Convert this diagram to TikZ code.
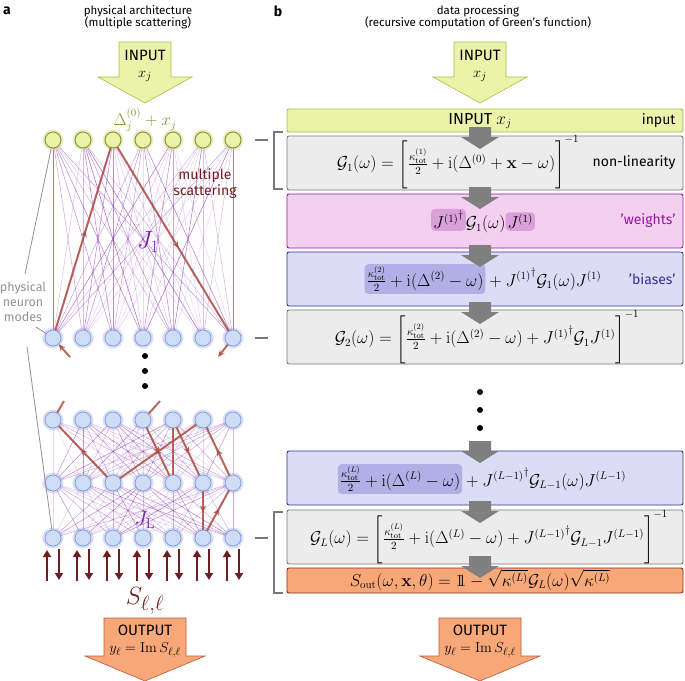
\documentclass[tikz,border=0pt]{standalone}
\usepackage[no-math]{fontspec}
\setmainfont{Fira Sans}
\usepackage{amsmath,amssymb}
\usetikzlibrary{arrows.meta,decorations.markings}
\newcommand\onebb{\mathrm{1}\mkern-5.5mu\mathrm{1}}
\definecolor{inF}{RGB}{234,243,170}
\definecolor{inD}{RGB}{170,190,70}
\definecolor{olive}{RGB}{140,150,50}
\definecolor{grF}{RGB}{236,236,236}
\definecolor{grD}{RGB}{120,120,120}
\definecolor{wF}{RGB}{244,208,240}
\definecolor{wD}{RGB}{150,20,160}
\definecolor{wH}{RGB}{218,160,218}
\definecolor{bF}{RGB}{220,220,246}
\definecolor{bD}{RGB}{50,50,140}
\definecolor{bH}{RGB}{176,176,230}
\definecolor{oF}{RGB}{248,168,120}
\definecolor{oD}{RGB}{150,40,20}
\definecolor{edge}{RGB}{130,30,170}
\definecolor{scat}{RGB}{175,80,70}
\definecolor{dred}{RGB}{110,30,30}
\definecolor{nodeF}{RGB}{206,220,246}
\definecolor{nodeD}{RGB}{130,150,220}
\newcommand\hlb[2]{\tikz[baseline=(X.base)]\node(X)[fill=#1,rounded corners=4pt,inner sep=2pt]{$#2$};}
\tikzset{
 box/.style={draw, line width=0.9pt, rounded corners=2pt},
 lab/.style={font=\fontsize{14}{16}\selectfont},
 big/.style={font=\fontsize{15}{15}\selectfont, align=center, inner sep=0pt},
 ttl/.style={font=\fontsize{11.5}{12.5}\selectfont, align=center},
 fml/.style={font=\fontsize{16}{18}\selectfont},
 rn/.style={fill=nodeF, draw=nodeD, line width=0.7pt, circle, minimum size=16pt, inner sep=0pt},
 gn/.style={fill=inF, draw=olive, line width=1pt, circle, minimum size=16pt, inner sep=0pt},
 sc/.style={draw=scat, line width=2pt, opacity=.85},
 scm/.style={sc, postaction={decorate}, decoration={markings, mark=at position .55 with {\arrow[scat]{Stealth[length=7pt,width=6pt]}}}},
 gar/.style={fill=grD!95, draw=none},
 bigin/.style={fill=inF, draw=inD, line width=0.6pt},
 bigout/.style={fill=oF, draw=oD!60!oF, line width=0.6pt},
}
\newcommand\garr[1]{\fill[gar] (469,#1) -- (491,#1) -- (491,#1+10) -- (499,#1+10) -- (480,#1+22) -- (461,#1+10) -- (469,#1+10) -- cycle;}
\newcommand\barrow[1]{\draw[bigin] (#1-26,42) -- (#1+26,42) -- (#1+26,77) -- (#1+47,77) -- (#1,103) -- (#1-47,77) -- (#1-26,77) -- cycle;}
\newcommand\oarrow[1]{\draw[bigout] (#1-41,618) -- (#1+41,618) -- (#1+41,656) -- (#1+60,656) -- (#1,681) -- (#1-60,656) -- (#1-41,656) -- cycle;}
\begin{document}
\begin{tikzpicture}[x=1pt,y=-1pt]
\useasboundingbox (0,0) rectangle (685,680);
\fill[white] (0,0) rectangle (685,680);
% titles
\node[font=\bfseries\fontsize{14}{15}\selectfont] (ta) at (7,11) {a};
\node[font=\bfseries\fontsize{14}{15}\selectfont] (tb) at (278,11) {b};
\node[ttl] (t1) at (138,17) {physical architecture\\(multiple scattering)};
\node[ttl] (t2) at (478,17) {data processing\\(recursive computation of Green's function)};
% input arrows
\barrow{145}
\node[big] (in1) at (145,66) {INPUT\\[2pt]$x_j$};
\barrow{480}
\node[big] (in2) at (480,66) {INPUT\\[2pt]$x_j$};
% output arrows
\oarrow{145}
\node[big] (o1) at (145,641) {OUTPUT\\[2pt]$y_\ell=\operatorname{Im}S_{\ell,\ell}$};
\oarrow{480}
\node[big] (o2) at (480,641) {OUTPUT\\[2pt]$y_\ell=\operatorname{Im}S_{\ell,\ell}$};
% ---------- network ----------
\pgfmathsetseed{7}
\foreach \i in {0,...,6}{\foreach \j in {0,...,6}{
  \pgfmathsetmacro\op{0.15+0.55*rnd}
  \draw[edge, line width=0.5pt, opacity=\op] (53+30*\i,140) -- (53+30*\j,338);
  \pgfmathsetmacro\op{0.12+0.45*rnd}
  \draw[edge, line width=0.5pt, opacity=\op] (53+30*\i,420) -- (53+30*\j,483);
  \pgfmathsetmacro\op{0.12+0.45*rnd}
  \draw[edge, line width=0.5pt, opacity=\op] (53+30*\i,483) -- (53+30*\j,538);
}}
\foreach \i in {0,...,6}{
  \fill[inF!80!olive, opacity=.5] (53+30*\i,140) circle (10.5);
  \node[gn] (g\i) at (53+30*\i,140) {};
  \foreach \r/\y in {a/338,b/420,c/483,d/538}{
    \fill[nodeD, opacity=.3] (53+30*\i,\y) circle (10.5);
    \node[rn] (\r\i) at (53+30*\i,\y) {};
  }
}
% scattering paths layer 1
\draw[scm] (a0) -- (g2);
\draw[scm] (g2) -- (a6);
\coordinate (s1) at (70,357); \coordinate (s2) at (218,357);
\draw[sc, -{Stealth[length=7pt,width=6pt]}] (s1) -- (a0);
\draw[sc, -{Stealth[length=7pt,width=6pt]}] (a6) -- (s2);
% scattering paths layer L
\coordinate (s3) at (64,401); \coordinate (s4) at (160,401);
\draw[sc] (s3) -- (b0);
\draw[sc] (s4) -- (b3);
\draw[scm] (c2) -- (b0);
\draw[scm] (b3) -- (c4);
\draw[scm] (b5) -- (c2);
\draw[sc] (b4) -- (c4);
\draw[scm] (b4) -- (c5);
\draw[scm] (c6) -- (b5);
\draw[scm] (c5) -- (d5);
\draw[scm] (d5) -- (c6);
% in/out arrows
\foreach \i in {0,...,6}{
  \coordinate (u\i) at (47+30*\i,581);
  \coordinate (v\i) at (59+30*\i,549);
  \draw[dred, line width=2.2pt, -{Triangle[length=7pt,width=8pt]}] (u\i) -- ++(0,-31);
  \draw[dred, line width=2.2pt, -{Triangle[length=7pt,width=8pt]}] (v\i) -- ++(0,31);
}
% labels
\node[fml, text=olive] (dl) at (145,120) {$\Delta_j^{(0)}+x_j$};
\node[lab, text=dred, align=center] (ms) at (205,184) {multiple\\scattering};
\node[text=edge, font=\fontsize{26}{28}\selectfont] (J1) at (148,242) {$J_1$};
\node[text=edge, font=\fontsize{22}{24}\selectfont] (JL) at (145,520) {$J_{\mathrm{L}}$};
\node[text=dred, font=\fontsize{28}{30}\selectfont] (S) at (145,601) {$S_{\ell,\ell}$};
\node[text=grD!80, align=center, font=\fontsize{12.5}{15}\selectfont, inner sep=1pt] (pn) at (23,302) {physical\\neuron\\modes};
\draw[grD!80, line width=0.8pt] (25,274) -- (g0);
\draw[grD!80, line width=0.8pt] (36,327) -- (a0);
\draw[grD!80, line width=0.8pt] (27,347) -- (d0);
% dots
\foreach \y in {356,371,386} {\fill (145,\y) circle (3);}
\foreach \y in {392,410,428} {\fill (480,\y) circle (3);}
% connectors to right panel
\foreach \y in {140,338,538} {\draw[grD, line width=1.5pt] (255,\y) -- (268,\y);}
\draw[grD, line width=1.5pt] (283,132) -- (274,132) -- (274,189) -- (283,189);
\draw[grD, line width=1.5pt] (283,512) -- (274,512) -- (274,593) -- (283,593);
% ---------- right boxes ----------
\draw[box, fill=inF, draw=inD] (287,109) rectangle (683,132);
\node[fml] (bx1) at (480,121) {INPUT $x_j$};
\node[lab, anchor=east] (l1) at (679,121) {input};
\draw[box, fill=grF, draw=grD] (287,136) rectangle (683,190);
\node[fml] (bx2) at (458,163) {$\mathcal G_1(\omega)=\Bigg[\frac{\kappa_{\mathrm{tot}}^{(1)}}{2}+\mathrm i(\Delta^{(0)}+\mathbf x-\omega)\Bigg]^{-1}$};
\node[lab, anchor=east] (l2) at (679,163) {non-linearity};
\draw[box, fill=wF, draw=wD] (287,194) rectangle (683,248);
\node[fml] (bx3) at (483,221) {${\hlb{wH}{{J^{(1)}}^{\dagger}}}\mathcal G_1(\omega){\hlb{wH}{J^{(1)}}}$};
\node[lab, anchor=east, text=wD] (l3) at (679,221) {'weights'};
\draw[box, fill=bF, draw=bD] (287,252) rectangle (683,306);
\node[fml] (bx4) at (483,279) {${\hlb{bH}{\frac{\kappa_{\mathrm{tot}}^{(2)}}{2}+\mathrm i(\Delta^{(2)}-\omega)}}+{J^{(1)}}^{\dagger}\mathcal G_1(\omega)J^{(1)}$};
\node[lab, anchor=east, text=bD] (l4) at (679,279) {'biases'};
\draw[box, fill=grF, draw=grD] (287,310) rectangle (683,364);
\node[fml] (bx5) at (487,338) {$\mathcal G_2(\omega)=\Bigg[\frac{\kappa_{\mathrm{tot}}^{(2)}}{2}+\mathrm i(\Delta^{(2)}-\omega)+{J^{(1)}}^{\dagger}\mathcal G_1J^{(1)}\Bigg]^{-1}$};
\draw[box, fill=bF, draw=bD] (287,451) rectangle (683,505);
\node[fml] (bx6) at (482,479) {${\hlb{bH}{\frac{\kappa_{\mathrm{tot}}^{(L)}}{2}+\mathrm i(\Delta^{(L)}-\omega)}}+{J^{(L-1)}}^{\dagger}\mathcal G_{L-1}(\omega)J^{(L-1)}$};
\draw[box, fill=grF, draw=grD] (287,510) rectangle (683,564);
\node[fml] (bx7) at (489,538) {$\mathcal G_L(\omega)=\Bigg[\frac{\kappa_{\mathrm{tot}}^{(L)}}{2}+\mathrm i(\Delta^{(L)}-\omega)+{J^{(L-1)}}^{\dagger}\mathcal G_{L-1}J^{(L-1)}\Bigg]^{-1}$};
\draw[box, fill=oF, draw=oD] (287,568) rectangle (683,593);
\node[fml] (bx8) at (480,580) {$S_{\mathrm{out}}(\omega,\mathbf x,\theta)=\onebb-\sqrt{\kappa^{(L)}}\mathcal G_L(\omega)\sqrt{\kappa^{(L)}}$};
% gray arrows
\foreach \y in {127,187,245,302,441,501,556} {\garr{\y}}
\end{tikzpicture}
\end{document}
